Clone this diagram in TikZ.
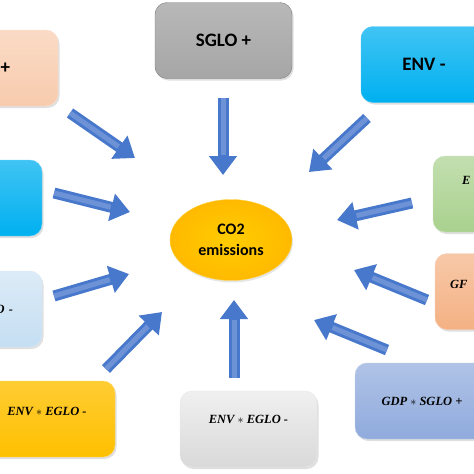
\documentclass[tikz,border=0pt]{standalone}
\usepackage{fontspec}
\newfontfamily\carlito{Carlito}
\newfontfamily\timesish{Liberation Serif}
\usetikzlibrary{arrows.meta,shadows,shapes.geometric}

\definecolor{sglogray}{RGB}{166,166,166}
\definecolor{peach}{RGB}{248,203,173}
\definecolor{skycyan}{RGB}{0,176,240}
\definecolor{paleblue}{RGB}{197,222,242}
\definecolor{gold}{RGB}{255,192,0}
\definecolor{boxgray}{RGB}{217,217,217}
\definecolor{gdpblue}{RGB}{143,170,220}
\definecolor{gforange}{RGB}{244,177,131}
\definecolor{egreen}{RGB}{169,209,142}
\definecolor{arrblue}{RGB}{72,120,204}

\begin{document}
\begin{tikzpicture}[
  x=1pt, y=-1pt,
  every node/.style={font=\carlito\bfseries\fontsize{19}{21}\selectfont},
  box/.style={rectangle, rounded corners=12pt, minimum width=#1, minimum height=76pt,
              drop shadow={opacity=0.25, shadow xshift=1.5pt, shadow yshift=-2pt}},
  ital/.style={font=\timesish\bfseries\itshape\fontsize{12.5}{15}\selectfont},
  fat/.style={line width=11pt, draw=arrblue, -{Triangle[width=27pt,length=19pt]},
              postaction={draw=arrblue!80!white, line width=5pt, -, shorten >=20pt}}
]
\useasboundingbox (0,0) rectangle (474,474);
\clip (0,0) rectangle (474,474);

% boxes round the centre
\node[box=137pt, draw=gray, top color=sglogray!80, bottom color=sglogray] (sglo) at (223.5,40.5) {SGLO +};
\node[box=126pt, draw=skycyan!70, top color=skycyan!75, bottom color=skycyan] (env) at (424,64.5) {ENV -};
\node[box=128pt, draw=peach!60, top color=peach!70, bottom color=peach,
      text width=32pt, inner xsep=48pt, align=right] (peachbox) at (-6,68) {+};
\node[box=128pt, draw=skycyan!60, top color=skycyan!75, bottom color=skycyan] (cyanbox) at (-22,198) {};
\node[box=128pt, draw=paleblue!60, top color=paleblue!60, bottom color=paleblue,
      ital, text width=70pt, inner xsep=28pt, align=right] (pale) at (-22,309) {O -};
\node[box=136pt, draw=gold!60, top color=gold!80, bottom color=gold,
      ital, text depth=16pt] (envegloa) at (47,419) {ENV $\ast$ EGLO -};
\node[box=137pt, draw=boxgray!60, top color=boxgray!40, bottom color=boxgray,
      ital, text depth=20pt] (enveglob) at (248.5,429) {ENV $\ast$ EGLO -};
\node[box=134pt, draw=gdpblue!60, top color=gdpblue!70, bottom color=gdpblue,
      ital] (gdp) at (422,401) {GDP $\ast$ SGLO +};
\node[box=120pt, draw=gforange!60, top color=gforange!70, bottom color=gforange,
      ital, text depth=15pt, text width=90pt, inner xsep=15pt, align=left] (gf) at (495,291.5) {GF};
\node[box=120pt, draw=egreen!60, top color=egreen!70, bottom color=egreen,
      ital, text depth=27pt, text width=62pt, inner xsep=29pt, align=left] (egr) at (493,194) {E};

% centre
\node[ellipse, minimum width=122pt, minimum height=81pt, draw=gold!70,
      inner color=gold!80!yellow, outer color=gold!90!orange,
      drop shadow={opacity=0.2, shadow xshift=1pt, shadow yshift=-2pt},
      align=center, font=\carlito\bfseries\fontsize{16}{18}\selectfont] (co2) at (231,240)
      {CO2\\[3pt]emissions};

% arrow ends
\coordinate (t1) at (70,113);   \coordinate (h1) at (135,158);
\coordinate (t2) at (54,193);   \coordinate (h2) at (130,212);
\coordinate (t3) at (223,98);   \coordinate (h3) at (223,175);
\coordinate (t4) at (367,118);  \coordinate (h4) at (309,172);
\coordinate (t5) at (412,203);  \coordinate (h5) at (337,220);
\coordinate (t6) at (427,300);  \coordinate (h6) at (354,270);
\coordinate (t7) at (387,350);  \coordinate (h7) at (314,320);
\coordinate (t8) at (234,378);  \coordinate (h8) at (234,300);
\coordinate (t9) at (106,369);  \coordinate (h9) at (162,312);
\coordinate (t10) at (54,296);  \coordinate (h10) at (129,274);

\draw[fat] (t1) -- (h1);
\draw[fat] (t2) -- (h2);
\draw[fat] (t3) -- (h3);
\draw[fat] (t4) -- (h4);
\draw[fat] (t5) -- (h5);
\draw[fat] (t6) -- (h6);
\draw[fat] (t7) -- (h7);
\draw[fat] (t8) -- (h8);
\draw[fat] (t9) -- (h9);
\draw[fat] (t10) -- (h10);
\end{tikzpicture}
\end{document}
